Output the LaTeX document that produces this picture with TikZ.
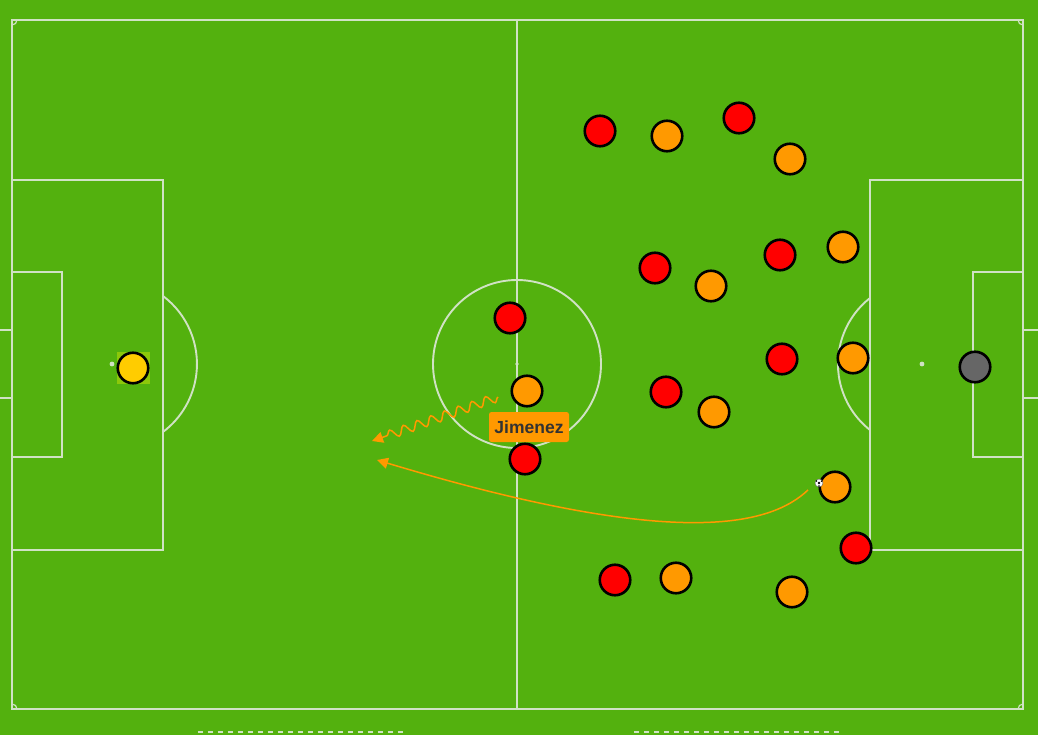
\documentclass[tikz,border=0pt]{standalone}
\usepackage{fontspec}
\setmainfont{Liberation Sans}
\usetikzlibrary{arrows.meta,decorations.pathmorphing,calc}
\definecolor{grass}{HTML}{53B10E}
\definecolor{pline}{HTML}{D0E2C4}
\definecolor{pred}{HTML}{FF0000}
\definecolor{porange}{HTML}{FF9900}
\definecolor{pyellow}{HTML}{FFCC00}
\definecolor{pgrey}{HTML}{666666}
\definecolor{gkpad}{HTML}{8CC80A}
\definecolor{labeltext}{HTML}{333333}
\tikzset{
  pitchline/.style={draw=pline,line width=1.9pt},
  player/.style={circle,draw=black,line width=2.6pt,minimum size=30.5pt,inner sep=0pt},
  red/.style={player,fill=pred},
  orange/.style={player,fill=porange},
  namelabel/.style={fill=porange,rounded corners=2.5pt,text=labeltext,font=\bfseries\fontsize{17.5}{18}\selectfont,inner xsep=4pt,minimum height=30pt,minimum width=80pt},
  runarrow/.style={draw=porange,line width=1.5pt},
}
\begin{document}
\begin{tikzpicture}[x=1pt,y=-1pt]
\fill[grass] (0,0) rectangle (1038,735);
\useasboundingbox (0,0) rectangle (1038,735);
% pitch
\draw[pitchline] (12,20) rectangle (1023,709);
\draw[pitchline] (517,20) -- (517,709);
\draw[pitchline] (517,364) circle (84);
\fill[pline] (517,364) circle (1.8);
% left side
\draw[pitchline] (12,180) -- (163,180) -- (163,550) -- (12,550);
\draw[pitchline] (12,272) -- (62,272) -- (62,457) -- (12,457);
\draw[pitchline] (0,330) -- (12,330);
\draw[pitchline] (0,398) -- (12,398);
\fill[pline] (112,364) circle (2.4);
\draw[pitchline] (163,296) arc[start angle=-53.1,end angle=53.1,radius=85];
% right side
\draw[pitchline] (1023,180) -- (870,180) -- (870,550) -- (1023,550);
\draw[pitchline] (1023,272) -- (973,272) -- (973,457) -- (1023,457);
\draw[pitchline] (1023,330) -- (1038,330);
\draw[pitchline] (1023,398) -- (1038,398);
\fill[pline] (922,364) circle (2.4);
\draw[pitchline] (870,298) arc[start angle=-128.2,end angle=-231.8,radius=84];
% corner arcs
\draw[pitchline,line width=1.2pt] (12,25) arc[start angle=90,end angle=0,radius=5];
\draw[pitchline,line width=1.2pt] (1018,20) arc[start angle=180,end angle=90,radius=5];
\draw[pitchline,line width=1.2pt] (17,709) arc[start angle=0,end angle=-90,radius=5];
\draw[pitchline,line width=1.2pt] (1023,704) arc[start angle=-90,end angle=-180,radius=5];
% bench areas
\draw[pline,line width=1.8pt,dash pattern=on 5pt off 5pt] (196,740) -- (196,732) -- (403,732) -- (403,740);
\draw[pline,line width=1.8pt,dash pattern=on 5pt off 5pt] (632,740) -- (632,732) -- (839,732) -- (839,740);
% goalkeepers
\fill[gkpad] (117,352) rectangle (150,384);
\node[player,fill=pyellow] (gk1) at (133,368) {};
\node[player,fill=pgrey] (gk2) at (975,367) {};
% red team
\node[red] (r1) at (600,131) {};
\node[red] (r2) at (739,118) {};
\node[red] (r3) at (655,268) {};
\node[red] (r4) at (780,255) {};
\node[red] (r5) at (510,318) {};
\node[red] (r6) at (782,359) {};
\node[red] (r7) at (666,392) {};
\node[red] (r8) at (525,459) {};
\node[red] (r9) at (856,548) {};
\node[red] (r10) at (615,580) {};
% orange team
\node[orange] (o1) at (667,136) {};
\node[orange] (o2) at (790,159) {};
\node[orange] (o3) at (843,247) {};
\node[orange] (o4) at (711,286) {};
\node[orange] (o5) at (853,358) {};
\node[orange] (o6) at (527,391) {};
\node[orange] (o7) at (714,412) {};
\node[orange] (o8) at (835,487) {};
\node[orange] (o9) at (676,578) {};
\node[orange] (o10) at (792,592) {};
% label
\node[namelabel] (lab) at (529,427) {Jimenez};
% ball
\node[circle,fill=white,draw=black!60,line width=0.4pt,minimum size=8pt,inner sep=0pt] (ball) at (819,483) {};
\fill[black] (ball.center) circle (1.3);
\fill[black] ($(ball.center)+(-2.5,-2)$) circle (0.9);
\fill[black] ($(ball.center)+(2.6,-1.8)$) circle (0.9);
\fill[black] ($(ball.center)+(0,3)$) circle (0.9);
% runs
\coordinate (w0) at (498,397);
\coordinate (w1) at (372,441);
\draw[runarrow,-{Triangle[length=11pt,width=11pt]},decorate,decoration={snake,amplitude=4.5pt,segment length=14.5pt,post length=9pt}] (w0) -- (w1);
\coordinate (c0) at (808,490);
\coordinate (c1) at (377,460);
\draw[runarrow,-{Triangle[length=11pt,width=11pt]}] (c0) .. controls (772,524) and (682,552) .. (c1);
\end{tikzpicture}
\end{document}
